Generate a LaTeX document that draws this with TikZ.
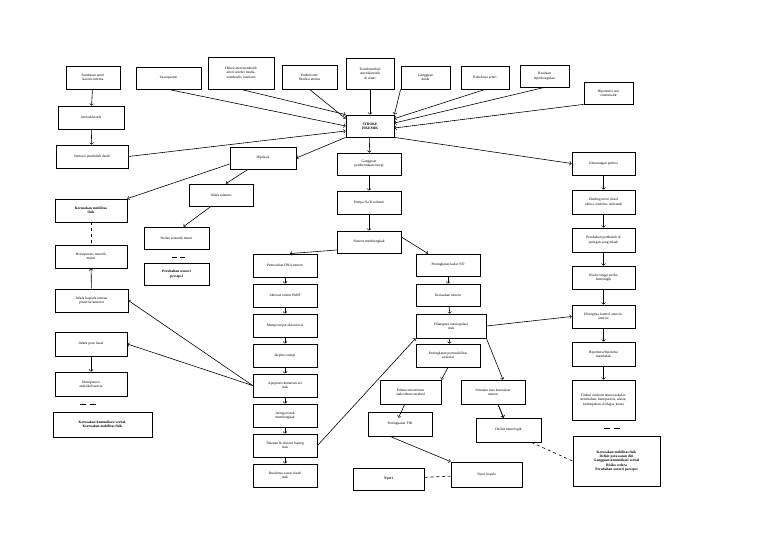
\documentclass[tikz,border=0pt]{standalone}
\usepackage{fontspec}
\setmainfont{Liberation Serif}
\begin{document}
\begin{tikzpicture}[x=1pt,y=-1pt,
  b/.style={draw,line width=0.8pt,align=center,font=\fontsize{3.6}{4.3}\selectfont,inner sep=1pt},
  a/.style={->,>=to,line width=0.6pt},
  d/.style={dashed,line width=0.6pt}]
\useasboundingbox[fill=white] (0,0) rectangle (768,543);
\newcommand\bx[6]{\node[b,minimum width=#4-#2,minimum height=#5-#3] (#1) at ({(#2+#4)/2},{(#3+#5)/2}) {#6};}
\bx{sum}{66}{66}{120}{89}{Sumbatan arteri\\karotis interna}
\bx{vas}{136}{67}{201}{89}{Vasospasme}
\bx{okl}{208}{57}{274}{89}{Oklusi aterotrombotik\\arteri serebri media,\\vertebralis, basilaris}
\bx{emb}{282}{65}{337}{89}{Embolisme:\\fibrilasi atrium}
\bx{tro}{346}{58}{394}{89}{Tromboemboli\\aterosklerotik\\di arteri}
\bx{gd}{401}{66}{450}{89}{Gangguan\\darah}
\bx{rob}{461}{66}{509}{89}{Robeknya arteri}
\bx{kea}{520}{65}{569}{87}{Keadaan\\hiperkoagulasi}
\bx{hip}{584}{82}{633}{104}{Hipertensi non\\simtomatik}
\bx{str}{346}{115}{394}{137}{\textbf{STROKE}\\\textbf{ISKEMIK}}
\bx{ate}{58}{106}{124}{129}{Aterosklerotik}
\bx{ste}{56}{145}{128}{168}{Stenosis pembuluh darah}
\bx{hpk}{230}{147}{296}{169}{Hipoksia}
\bx{gpe}{337}{153}{401}{175}{Gangguan\\pembentukan energi}
\bx{tal}{189}{184}{253}{206}{Infark talamus}
\bx{kmf}{55}{199}{127}{222}{\textbf{Kerusakan mobilitas}\\\textbf{fisik}}
\bx{pom}{337}{191}{401}{214}{Pompa Na K terhenti}
\bx{ssm}{144}{227}{209}{249}{Stroke sensorik murni}
\bx{neu}{337}{231}{401}{253}{Neuron membengkak}
\bx{psp}{144}{263}{209}{285}{\textbf{Perubahan sensori}\\\textbf{persepsi}}
\bx{hmm}{55}{245}{127}{268}{Hemiparesis motorik\\murni}
\bx{ikp}{55}{289}{128}{312}{Infark kapsula interna\\posterior/anterior}
\bx{ipb}{55}{332}{127}{356}{Infark pons basal}
\bx{hat}{55}{372}{127}{396}{Hemiparesis\\ataksik/disartria}
\bx{kkv}{53}{412}{152}{437}{\textbf{Kerusakan komunikasi verbal,}\\\textbf{Kerusakan mobilitas fisik}}
\bx{r1}{572}{152}{635}{175}{Kekurangan perfusi}
\bx{r2}{572}{190}{635}{214}{Dinding arteri distal\\oklusi, embolus melemah}
\bx{r3}{572}{228}{635}{252}{Perubahan pembuluh di\\jaringan yang infark}
\bx{r4}{572}{266}{635}{289}{Risiko tinggi stroke\\hemoragik}
\bx{r5}{572}{305}{635}{328}{Hilangnya kontrol arteriol-\\arteriol}
\bx{r6}{572}{342}{635}{366}{Hipertensi/hipotensi\\mendadak}
\bx{r7}{572}{380}{635}{420}{Timbul sindrom neurovaskular:\\kelemahan, hemiparesis, afasia,\\kelumpuhan, disfagia, koma}
\bx{r8}{573}{436}{660}{486}{\textbf{Kerusakan mobilitas fisik}\\\textbf{Defisit perawatan diri}\\\textbf{Gangguan komunikasi verbal}\\\textbf{Risiko cedera}\\\textbf{Perubahan sensori persepsi}}
\bx{m1}{253}{254}{317}{277}{Pemecahan DNA neuron}
\bx{m2}{253}{284}{317}{307}{Aktivasi enzim PARP}
\bx{m3}{253}{314}{317}{337}{Mempercepat eksositosis}
\bx{m4}{253}{344}{317}{367}{Deplesi energi}
\bx{m5}{253}{374}{317}{397}{Apoptosis/kematian sel\\otak}
\bx{m6}{253}{404}{317}{427}{Jaringan otak\\membengkak}
\bx{m7}{253}{434}{317}{457}{Tekanan \& distorsi batang\\otak}
\bx{m8}{253}{464}{317}{487}{Rusaknya sawar darah\\otak}
\bx{n1}{416}{254}{480}{276}{Peningkatan kadar NO}
\bx{n2}{416}{284}{480}{306}{Kerusakan neuron}
\bx{n3}{416}{314}{486}{338}{Hilangnya autoregulasi\\otak}
\bx{n4}{416}{344}{480}{367}{Peningkatan permeabilitas\\vaskular}
\bx{ede}{380}{380}{441}{404}{Edema interstitium\\otak/edema serebral}
\bx{sem}{461}{380}{525}{404}{Semakin luas kerusakan\\neuron}
\bx{tik}{368}{412}{432}{436}{Peningkatan TIK}
\bx{def}{476}{418}{541}{442}{Defisit neurologik}
\bx{ny}{353}{468}{424}{490}{\textbf{Nyeri}}
\bx{nyk}{451}{462}{522}{487}{Nyeri kepala}
% arrows into stroke
\draw[a] (vas.south) -- (str.west);
\draw[a] (okl.south) -- (str.north west);
\draw[a] (emb.south) -- ([yshift=-4]str.north west);
\draw[a] (tro) -- (str);
\draw[a] (gd.south west) -- (str.north east);
\draw[a] (rob.south) -- ([yshift=-4]str.north east);
\draw[a] (kea.south) -- ([yshift=3]str.east);
\draw[a] (hip.south west) -- ([yshift=-2]str.east);
\draw[a] (sum) -- (ate);
\draw[a] (ate) -- (ste);
\draw[a] (ste.east) -- ([yshift=-5]str.west);
\draw[a] (str.south west) -- (hpk.east);
\draw[a] (str) -- (gpe);
\draw[a] (str.south east) -- (r1.west);
\draw[a] (gpe) -- (pom);
\draw[a] (pom) -- (neu);
\draw[a] ([xshift=-15]hpk.south) -- ([xshift=5]tal.north);
\draw[a] ([yshift=-6]hpk.west) -- (kmf.north east);
\draw[a] ([xshift=-10]tal.south) -- ([xshift=7]ssm.north);
\draw[a] ([yshift=-8]neu.west) -- ([xshift=5]m1.north);
\draw[a] ([yshift=5]neu.east) -- ([xshift=-20]n1.north);
\foreach \p/\q in {m1/m2,m2/m3,m3/m4,m4/m5,m5/m6,m6/m7,m7/m8,n1/n2,n2/n3,n3/n4,r1/r2,r2/r3,r3/r4,r4/r5,r5/r6,r6/r7,sem/def}
  \draw[a] (\p) -- (\q);
\draw[a] (m5.west) -- (ikp.east);
\draw[a] (m5.west) -- (ipb.east);
\draw[a] (ikp) -- (hmm);
\draw[a] (ipb) -- (hat);
\draw[a] (m7.east) -- (n3.south west);
\draw[a] (n3.east) -- (r5.west);
\draw[a] (n3.south east) -- ([xshift=10]sem.north);
\draw[a] (n4.south) -- (ede.north east);
\draw[a] (ede) -- ([xshift=-12,yshift=-6]ede.south |- tik.north);
\draw[a] ([xshift=-10]tik.south) -- (nyk.north west);
\draw[a] (sem) -- (def);
% dashed
\draw[d] (kmf) -- (hmm);
\draw[d] (ny) -- (nyk);
\draw[d] ([xshift=-10]def.south east) -- (r8.west);
\coordinate (d1a) at (172,257); \coordinate (d1b) at (186,257);
\draw[dash pattern=on 5pt off 3pt,line width=0.8pt] (d1a) -- (d1b);
\coordinate (d2a) at (80,404); \coordinate (d2b) at (97,404);
\draw[dash pattern=on 6pt off 4pt,line width=0.8pt] (d2a) -- (d2b);
\coordinate (d3a) at (604,428); \coordinate (d3b) at (621,428);
\draw[dash pattern=on 6pt off 4pt,line width=0.8pt] (d3a) -- (d3b);
\end{tikzpicture}
\end{document}
